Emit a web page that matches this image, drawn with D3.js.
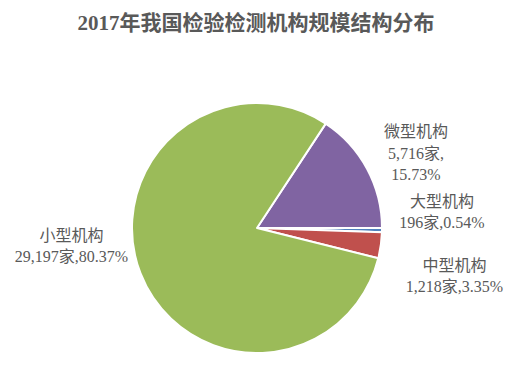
<!DOCTYPE html>
<html><head><meta charset="utf-8">
<script src="https://cdn.jsdelivr.net/npm/d3@7"></script>
<style>
html,body{margin:0;padding:0;background:#fff;}
svg{display:block;}
</style></head>
<body>
<script>
const title = "2017年我国检验检测机构规模结构分布";
const categories = ["微型机构", "大型机构", "中型机构", "小型机构"];
const counts = [5716, 196, 1218, 29197];
const percents = ["15.73%", "0.54%", "3.35%", "80.37%"];
const colors = ["#8064A2", "#4F81BD", "#C0504D", "#9BBB59"];

const W = 526, H = 370;
const cx = 257, cy = 228, R = 125;
const fontStack = "'Liberation Serif','Noto Sans CJK SC',serif";

const svg = d3.select("body").append("svg").attr("width", W).attr("height", H);

svg.append("text")
  .attr("x", 256).attr("y", 23)
  .attr("text-anchor", "middle").attr("dominant-baseline", "central")
  .attr("font-family", fontStack).attr("font-weight", "bold")
  .attr("font-size", 21).attr("fill", "#595959")
  .text(title);

const total = d3.sum(counts);
const startA = Math.PI / 2 - 2 * Math.PI * counts[0] / total;
const pie = d3.pie().sort(null).startAngle(startA).endAngle(startA + 2 * Math.PI);
const arcs = pie(counts);
const arc = d3.arc().innerRadius(0).outerRadius(R);

const g = svg.append("g").attr("transform", `translate(${cx},${cy})`);
g.selectAll("path").data(arcs).join("path")
  .attr("d", arc)
  .attr("fill", (d, i) => colors[i])
  .attr("stroke", "#fff").attr("stroke-width", 2).attr("stroke-linejoin", "round");

// label layout (offsets from pie centre to label block centre) and line breaks
const fmt = d3.format(",");
const labelLayout = [
  {dx: 159, dy: -75, lines: i => [categories[i], fmt(counts[i]) + "家,", percents[i]]},
  {dx: 185, dy: -16, lines: i => [categories[i], fmt(counts[i]) + "家," + percents[i]]},
  {dx: 197.5, dy: 48, lines: i => [categories[i], fmt(counts[i]) + "家," + percents[i]]},
  {dx: -185.5, dy: 18, lines: i => [categories[i], fmt(counts[i]) + "家," + percents[i]]}
];
const lh = 21.5;
labelLayout.forEach((L, i) => {
  const lines = L.lines(i);
  const y0 = cy + L.dy - (lines.length - 1) * lh / 2;
  const t = svg.append("text")
    .attr("font-family", fontStack).attr("font-size", 16)
    .attr("fill", "#595959").attr("text-anchor", "middle");
  lines.forEach((s, k) => {
    t.append("tspan").attr("x", cx + L.dx).attr("y", y0 + k * lh)
      .attr("dominant-baseline", "central").text(s);
  });
});
</script>
</body></html>
